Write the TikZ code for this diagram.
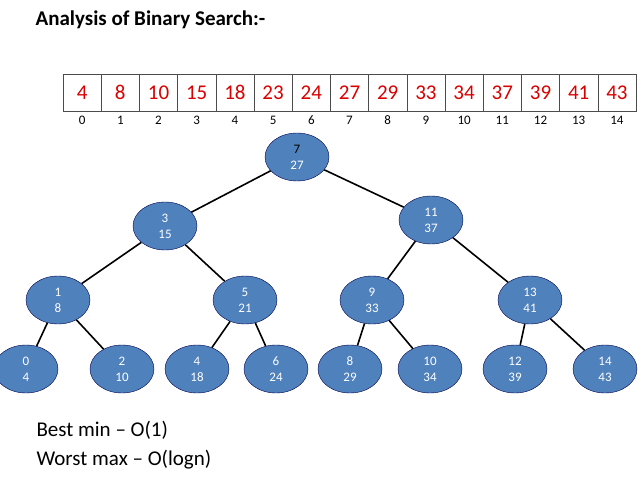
\documentclass[tikz,border=0pt]{standalone}
\usepackage{fontspec}
\setmainfont{Carlito}
\usetikzlibrary{shapes.geometric}
\begin{document}
\begin{tikzpicture}[x=1pt,y=-1pt,
  nd/.style={ellipse,draw=black!70!blue,fill=nodeblue,minimum width=64pt,minimum height=48pt,inner sep=0pt,align=center,text=white,font=\fontsize{13}{16}\selectfont},
  ed/.style={line width=1.6pt},
  cell/.style={draw=black!70,minimum width=38.2pt,minimum height=37pt,inner sep=0pt,text=red!85!black,font=\fontsize{21}{24}\selectfont},
  idx/.style={font=\fontsize{13}{15}\selectfont}]
\definecolor{nodeblue}{RGB}{79,129,189}
\useasboundingbox (0,0) rectangle (638,478);
\node[anchor=west,font=\bfseries\fontsize{21}{25}\selectfont] (title) at (32,20) {Analysis of Binary Search:-};
\foreach \v [count=\i from 0] in {4,8,10,15,18,23,24,27,29,33,34,37,39,41,43}{
  \node[cell] (c\i) at ({63+19.1+38.2*\i},92.5) {\v};
  \node[idx] (i\i) at ({63+19.1+38.2*\i},120) {\i};
}
\node[nd] (n7) at (297,157) {\textcolor{black}{7}\\27};
\node[nd] (n3) at (165,226) {3\\15};
\node[nd] (n11) at (431,220) {11\\37};
\node[nd] (n1) at (58,300) {1\\8};
\node[nd] (n5) at (245,300) {5\\21};
\node[nd] (n9) at (372,300) {9\\33};
\node[nd] (n13) at (530,300) {13\\41};
\node[nd] (n0) at (26,369) {0\\4};
\node[nd] (n2) at (122,369) {2\\10};
\node[nd] (n4) at (197,369) {4\\18};
\node[nd] (n6) at (276,369) {6\\24};
\node[nd] (n8) at (350,369) {8\\29};
\node[nd] (n10) at (430,369) {10\\34};
\node[nd] (n12) at (515,369) {12\\39};
\node[nd] (n14) at (605,369) {14\\43};
\foreach \a/\b in {7/3,7/11,3/1,3/5,11/9,11/13,1/0,1/2,5/4,5/6,9/8,9/10,13/12,13/14}
  \draw[ed] (n\a) -- (n\b);
\node[anchor=west,font=\fontsize{21}{25}\selectfont] (best) at (33,430) {Best min -- O(1)};
\node[anchor=west,font=\fontsize{21}{25}\selectfont] (worst) at (33,460) {Worst max -- O(logn)};
\end{tikzpicture}
\end{document}
